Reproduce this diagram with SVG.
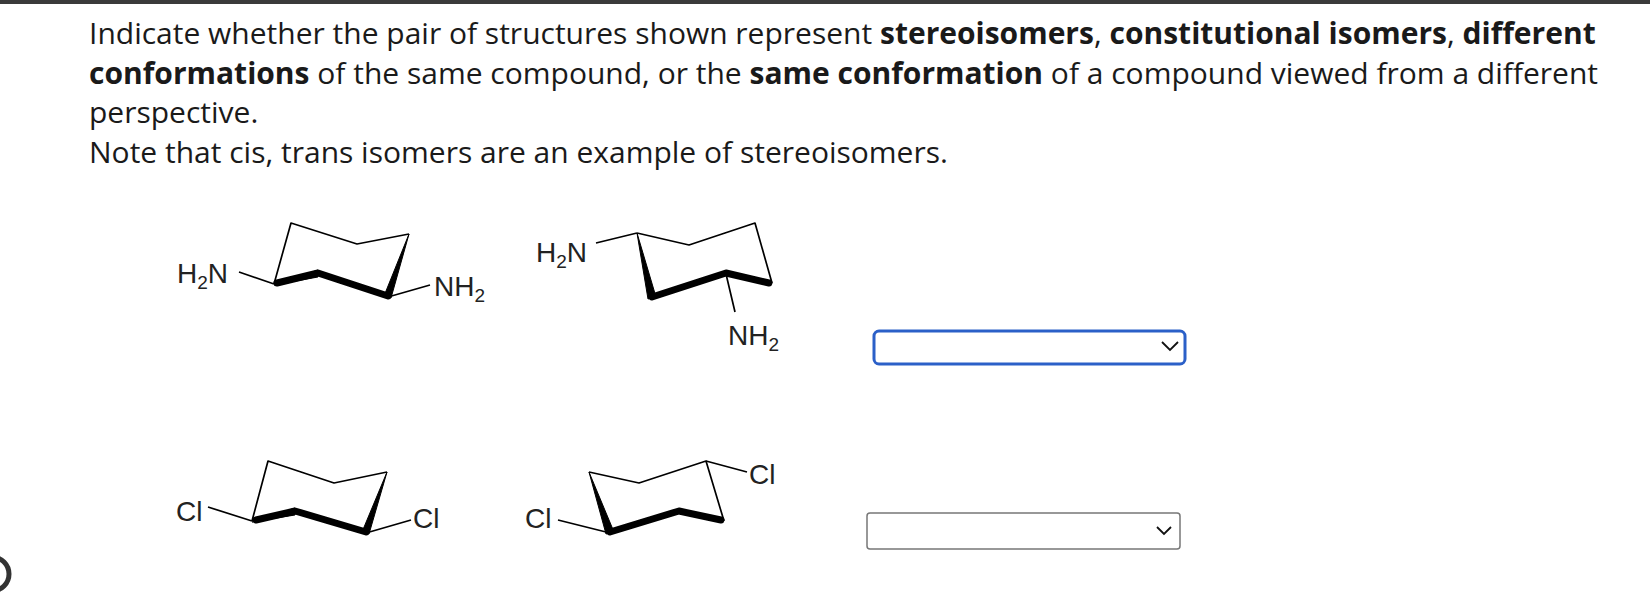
<svg xmlns="http://www.w3.org/2000/svg" width="1650" height="594" viewBox="0 0 1650 594">
<style>
.t{font-family:"Open Sans","Noto Sans",sans-serif;font-size:30px;fill:#1a1a1a}
.b{font-weight:bold}
.lab{font-family:"Liberation Sans",Arial,sans-serif;font-size:28px;fill:#222}
.sub{font-size:19px}
.bond{stroke:#000;stroke-width:1.7;fill:none;stroke-linejoin:round}
.thick{stroke:#000;stroke-width:7;fill:none;stroke-linecap:round;stroke-linejoin:round}
.wedge{fill:#000;stroke:#000;stroke-width:1}
</style>
<rect width="1650" height="594" fill="#fff"/>
<rect x="0" y="0" width="1650" height="4" fill="#3a3a3a"/>
<circle cx="-8" cy="574" r="17" fill="none" stroke="#333" stroke-width="5"/>
<g id="question">
<text class="t" x="89" y="44">Indicate whether the pair of structures shown represent <tspan class="b">stereoisomers</tspan>, <tspan class="b">constitutional isomers</tspan>, <tspan class="b">different</tspan></text>
<text class="t" x="89" y="84"><tspan class="b">conformations</tspan> of the same compound, or the <tspan class="b">same conformation</tspan> of a compound viewed from a different</text>
<text class="t" x="89" y="123">perspective.</text>
<text class="t" x="89" y="163">Note that cis, trans isomers are an example of stereoisomers.</text>
</g>
<g id="mol1">
<path class="bond" d="M274,284 L291,223 L357,244 L409,234"/>
<polygon class="wedge" points="409,234 391,298 384,296"/>
<path class="thick" d="M388,296 L318,273 L277,283"/>
<polygon class="wedge" points="318,270 318,277 274,285"/>
<path class="bond" d="M274,284 L239,272 M388,297 L430,285"/>
<text class="lab" x="177" y="283">H<tspan class="sub" dy="6">2</tspan><tspan dy="-6">N</tspan></text>
<text class="lab" x="434" y="296">NH<tspan class="sub" dy="6">2</tspan></text>
</g>
<g id="mol2">
<path class="bond" d="M637,233 L689,245 L755,223 L772,283"/>
<polygon class="wedge" points="637,233 648,299 656,297"/>
<path class="thick" d="M652,297 L726,273 L769,283"/>
<path class="bond" d="M637,233 L596,243 M726,274 L735,312"/>
<text class="lab" x="536" y="262">H<tspan class="sub" dy="6">2</tspan><tspan dy="-6">N</tspan></text>
<text class="lab" x="728" y="345">NH<tspan class="sub" dy="6">2</tspan></text>
</g>
<g id="mol3">
<path class="bond" d="M252,521 L268,461 L334,483 L387,472"/>
<polygon class="wedge" points="387,472 369,534 362,532"/>
<path class="thick" d="M366,532 L295,511 L256,520"/>
<polygon class="wedge" points="295,508 295,515 252,522"/>
<path class="bond" d="M252,521 L208,507 M366,533 L411,520"/>
<text class="lab" x="176" y="521">Cl</text>
<text class="lab" x="413" y="528">Cl</text>
</g>
<g id="mol4">
<path class="bond" d="M589,472 L639,483 L706,461 L724,521"/>
<polygon class="wedge" points="589,472 606,534 614,532"/>
<path class="thick" d="M610,532 L679,511 L721,520"/>
<path class="bond" d="M610,533 L558,520 M706,461 L747,472"/>
<text class="lab" x="525" y="528">Cl</text>
<text class="lab" x="749" y="484">Cl</text>
</g>
<g id="dropdowns">
<rect x="874" y="331" width="311" height="33" rx="5" fill="#fff" stroke="#2b60c8" stroke-width="3"/>
<path d="M1162,342 L1170,350 L1178,342" fill="none" stroke="#111" stroke-width="1.8"/>
<rect x="867" y="513" width="313" height="36" rx="3" fill="#fff" stroke="#777" stroke-width="1.5"/>
<path d="M1157,527 L1164,534 L1171,527" fill="none" stroke="#111" stroke-width="1.8"/>
</g>
</svg>
